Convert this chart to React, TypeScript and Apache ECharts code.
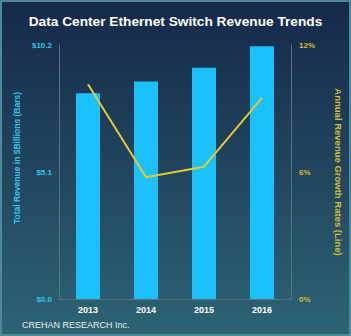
import React, { useEffect, useRef } from "react";
import * as echarts from "echarts";

const years = ["2013", "2014", "2015", "2016"];
const revenue = [8.26, 8.73, 9.29, 10.15];
const growth = [10.15, 5.75, 6.25, 9.5];

export default function App() {
  const ref = useRef<HTMLDivElement>(null);
  useEffect(() => {
    const chart = echarts.init(ref.current!, null, { renderer: "svg" });
    chart.setOption({
      animation: false,
      backgroundColor: {
        type: "linear",
        x: 0, y: 0, x2: 0, y2: 1,
        colorStops: [
          { offset: 0, color: "#15294a" },
          { offset: 0.5, color: "#21455e" },
          { offset: 1, color: "#2d6475" },
        ],
      },
      title: {
        text: "Data Center Ethernet Switch Revenue Trends",
        left: "center",
        top: 9,
        textStyle: { color: "#ffffff", fontFamily: "Liberation Sans, Arial", fontWeight: "bold", fontSize: 13.7 },
      },
      graphic: [
        {
          type: "rect",
          shape: { x: 1, y: 1, width: 349, height: 334 },
          style: { fill: "none", stroke: "#4d8a98", lineWidth: 2 },
          silent: true,
        },
        {
          type: "text",
          x: 17,
          y: 158,
          rotation: Math.PI / 2,
          style: {
            text: "Total Revenue in $Billions (Bars)",
            fill: "#2ec6e6",
            font: "bold 8.5px Liberation Sans, Arial",
            align: "center",
            verticalAlign: "middle",
          },
        },
        {
          type: "text",
          left: 22,
          top: 320,
          style: { text: "CREHAN RESEARCH Inc.", fill: "#e6eef2", font: "9px Liberation Sans, Arial" },
        },
      ],
      grid: { left: 59, right: 58, top: 45, bottom: 37 },
      xAxis: {
        type: "category",
        data: years,
        axisLine: { lineStyle: { color: "#5f6f82" } },
        axisTick: { show: false },
        axisLabel: { color: "#ffffff", fontWeight: "bold", fontSize: 9, fontFamily: "Liberation Sans, Arial", margin: 6 },
      },
      yAxis: [
        {
          type: "value",
          min: 0,
          max: 10.2,
          interval: 5.1,
          axisLine: { show: true, lineStyle: { color: "#5f6f82" } },
          axisTick: { show: false },
          splitLine: { show: false },
          axisLabel: { color: "#2ec6e6", fontWeight: "bold", fontSize: 8, fontFamily: "Liberation Sans, Arial", margin: 7, formatter: (v: number) => "$" + v.toFixed(1) },
        },
        {
          type: "value",
          min: 0,
          max: 12,
          interval: 6,
          name: "Annual Revenue Growth Rates (Line)",
          nameLocation: "middle",
          nameGap: 42,
          nameRotate: -90,
          nameTextStyle: { color: "#d9bb2c", fontWeight: "bold", fontSize: 9.5, fontFamily: "Liberation Sans, Arial" },
          axisLine: { show: true, lineStyle: { color: "#5f6f82" } },
          axisTick: { show: false },
          splitLine: { show: false },
          axisLabel: { color: "#d9bb2c", fontWeight: "bold", fontSize: 8, fontFamily: "Liberation Sans, Arial", margin: 8, formatter: (v: number) => v + "%" },
        },
      ],
      series: [
        {
          type: "bar",
          data: revenue,
          barWidth: 24,
          itemStyle: { color: "#1cc0fb" },
        },
        {
          type: "line",
          yAxisIndex: 1,
          data: growth,
          symbol: "none",
          lineStyle: { color: "#e3cb30", width: 2 },
        },
      ],
    });
    return () => chart.dispose();
  }, []);
  return <div ref={ref} style={{ position: "fixed", left: 0, top: 0, width: 351, height: 336 }} />;
}
